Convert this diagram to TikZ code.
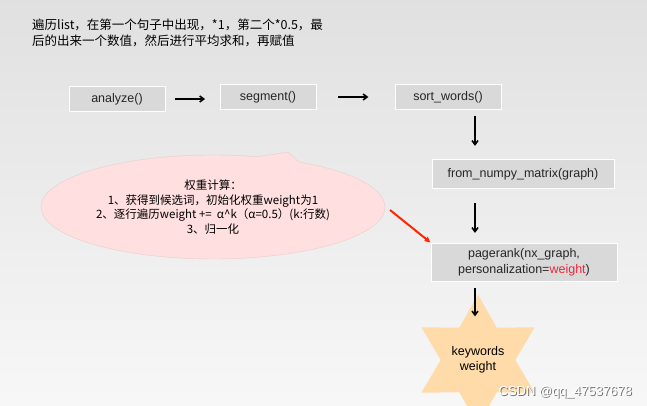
\documentclass[tikz,border=0pt]{standalone}
\usepackage{fontspec}
\setmainfont{Liberation Sans}
\newfontfamily\cjk{Noto Sans CJK SC}
\usetikzlibrary{shapes.geometric,shapes.callouts,arrows.meta}
\begin{document}
\begin{tikzpicture}[x=1pt,y=-1pt,font=\cjk\fontsize{12.5}{16}\selectfont,
  box/.style={fill=black!15,draw=white,line width=0.8pt,inner sep=0pt,text=black!85,font=\rmfamily\fontsize{12.5}{16}\selectfont},
  arr/.style={-{Straight Barb[length=4pt,width=6pt]},line width=1.6pt}]
\shade[top color=black!12,bottom color=white!97!black] (0,0) rectangle (647,406);
\useasboundingbox (0,0) rectangle (647,406);
\node[anchor=north west,align=left,inner sep=0pt] (t) at (32,19) {遍历list，在第一个句子中出现，*1，第二个*0.5，最\\后的出来一个数值，然后进行平均求和，再赋值};
\node[box,minimum width=96,minimum height=25] (a) at (117,99) {analyze()};
\node[box,minimum width=96,minimum height=25] (s) at (268,97) {segment()};
\node[box,minimum width=106,minimum height=25] (w) at (448,97) {sort\_words()};
\node[box,minimum width=182,minimum height=29] (f) at (523,174) {from\_numpy\_matrix(graph)};
\node[box,minimum width=186,minimum height=38,align=center] (p) at (524,262) {pagerank(nx\_graph,\\personalization={\color[HTML]{E8283C}weight})};
\node[star,star points=6,star point ratio=1.75,minimum size=80,fill=orange!30!white!95!yellow,inner sep=0pt,align=center,font=\rmfamily\fontsize{12.5}{15}\selectfont] (k) at (478,360) {keywords\\weight};
\node[ellipse callout,fill=pink!50!white,draw=pink!70!gray!60,minimum width=344,minimum height=104,inner sep=0pt,callout absolute pointer={(288,152)},align=center,font=\cjk\fontsize{11.5}{14.5}\selectfont] (c) at (213,207) {权重计算：\\1、获得到候选词，初始化权重weight为1\\2、逐行遍历weight +=\ \ α\textasciicircum k（α=0.5）(k:行数)\\3、归一化};
\coordinate (r0) at (390,210);
\draw[-{Triangle[length=6pt,width=5pt]},line width=2pt,color=red!70!orange] (r0) -- (p.north west);
\draw[arr] (a) ++(58,0) coordinate (x1) -- ++(30,0);
\draw[arr] (s.east) ++(22,0) -- ++(30,0);
\draw[arr] (w.south) ++(27,6) -- ++(0,30);
\draw[arr] (f.south) ++(-48,14) -- ++(0,30);
\draw[arr] (p.south) ++(-49,7) -- ++(0,28);
\node[anchor=south east,font=\rmfamily\fontsize{13}{14}\selectfont,inner sep=0pt] (wm) at (633,399) {\textcolor{black!55}{CSDN @qq\_47537678}};
\node[anchor=south east,text=white,font=\rmfamily\fontsize{13}{14}\selectfont,inner sep=0pt] (wm2) at (632,398) {CSDN @qq\_47537678};
\end{tikzpicture}
\end{document}
